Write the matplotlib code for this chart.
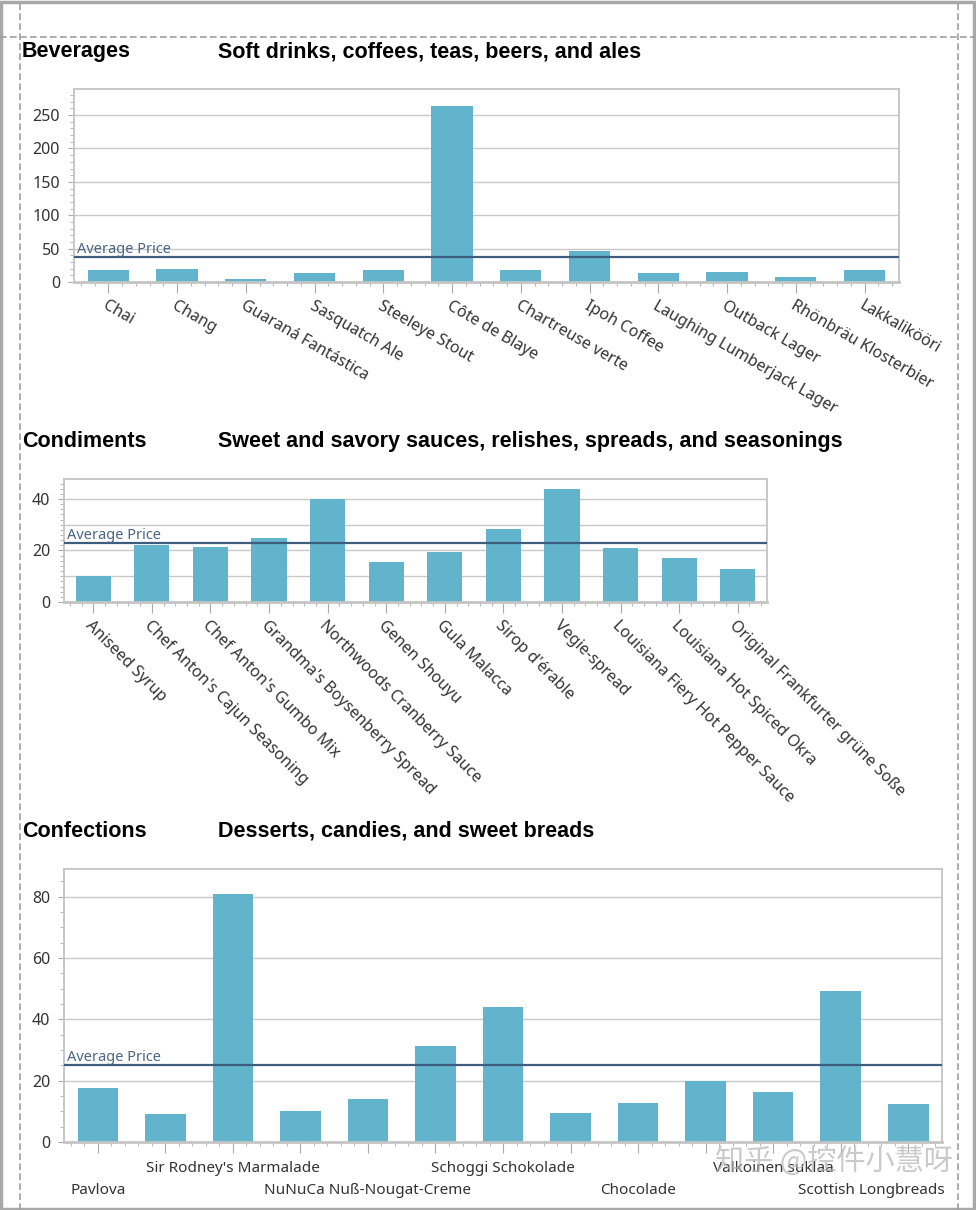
import matplotlib.pyplot as plt
from matplotlib.ticker import MultipleLocator
from matplotlib.lines import Line2D
from matplotlib.patches import Rectangle
from matplotlib.transforms import ScaledTranslation

bev_names = ["Chai", "Chang", "Guaraná Fantástica", "Sasquatch Ale", "Steeleye Stout",
             "Côte de Blaye", "Chartreuse verte", "Ipoh Coffee", "Laughing Lumberjack Lager",
             "Outback Lager", "Rhönbräu Klosterbier", "Lakkalikööri"]
bev_prices = [18, 19, 4.5, 14, 18, 263.5, 18, 46, 14, 15, 7.75, 18]
bev_avg = 37.98

cond_names = ["Aniseed Syrup", "Chef Anton's Cajun Seasoning", "Chef Anton's Gumbo Mix",
              "Grandma's Boysenberry Spread", "Northwoods Cranberry Sauce", "Genen Shouyu",
              "Gula Malacca", "Sirop d'érable", "Vegie-spread", "Louisiana Fiery Hot Pepper Sauce",
              "Louisiana Hot Spiced Okra", "Original Frankfurter grüne Soße"]
cond_prices = [10, 22, 21.35, 25, 40, 15.5, 19.45, 28.5, 43.9, 21.05, 17, 13]
cond_avg = 23.06

conf_names = ["Pavlova", "Teatime Chocolate Biscuits", "Sir Rodney's Marmalade",
              "Sir Rodney's Scones", "NuNuCa Nuß-Nougat-Creme", "Gumbär Gummibärchen",
              "Schoggi Schokolade", "Zaanse koeken", "Chocolade", "Maxilaku",
              "Valkoinen suklaa", "Tarte au sucre", "Scottish Longbreads"]
conf_prices = [17.45, 9.2, 81, 10, 14, 31.23, 43.9, 9.5, 12.75, 20, 16.25, 49.3, 12.5]
conf_avg = 25.16

titles = [("Beverages", "Soft drinks, coffees, teas, beers, and ales"),
          ("Condiments", "Sweet and savory sauces, relishes, spreads, and seasonings"),
          ("Confections", "Desserts, candies, and sweet breads")]

BAR = "#62b3cc"
AVG = "#3d5d7e"
GRID = "#c8c8c8"
TXT = "#333333"
plt.rcParams['font.family'] = ['Noto Sans', 'DejaVu Sans']

fig = plt.figure(figsize=(9.76, 12.10), dpi=100)


def chart(rect, names, prices, avg, ymax, label_step, grid_step, minor_step):
    ax = fig.add_axes(rect)
    x = list(range(len(names)))
    ax.bar(x, prices, width=0.6, color=BAR, zorder=2)
    ax.axhline(avg, color=AVG, lw=1.6, zorder=3)
    ax.text(-0.45, avg, "Average Price", color="#4a6685", fontsize=10.5,
            va="bottom", ha="left", zorder=4)
    ax.set_xlim(-0.5, len(names) - 0.5)
    ax.set_ylim(0, ymax)
    ax.yaxis.set_major_locator(MultipleLocator(label_step))
    ax.yaxis.set_minor_locator(MultipleLocator(minor_step))
    v = grid_step
    while v < ymax:
        ax.axhline(v, color=GRID, lw=1.0, zorder=1)
        v += grid_step
    ax.set_xticks(x)
    ax.xaxis.set_minor_locator(MultipleLocator(0.2))
    for s in ax.spines.values():
        s.set_color("#c4c4c4")
        s.set_linewidth(1.3)
    ax.spines["bottom"].set_linewidth(2)
    ax.tick_params(axis="y", which="major", length=4, color="#aaaaaa", labelsize=11.5,
                   labelcolor=TXT, pad=6)
    ax.tick_params(axis="y", which="minor", length=3, color="#aaaaaa")
    ax.tick_params(axis="x", which="major", length=8, color="#aaaaaa", labelsize=11.5,
                   labelcolor=TXT)
    ax.tick_params(axis="x", which="minor", length=3, color="#aaaaaa")
    return ax


ax1 = chart([0.0758, 0.7669, 0.8453, 0.1595], bev_names, bev_prices, bev_avg, 289, 50, 50, 10)
ax1.set_xticklabels(bev_names, rotation=-30, ha="left", va="top", rotation_mode="anchor")

ax2 = chart([0.0656, 0.5025, 0.7203, 0.1017], cond_names, cond_prices, cond_avg, 47.8, 20, 10, 2)
ax2.set_xticklabels(cond_names, rotation=-45, ha="left", va="top", rotation_mode="anchor")

ax3 = chart([0.0656, 0.0562, 0.8996, 0.2256], conf_names, conf_prices, conf_avg, 89, 20, 20, 5)
# only every other name fits, staggered over two rows
conf_labels = [n if i % 2 == 0 else "" for i, n in enumerate(conf_names)]
ax3.set_xticklabels(conf_labels, fontsize=11)
for i, t in enumerate(ax3.xaxis.get_major_ticks()):
    if i % 4 == 0:
        t.set_pad(t.get_pad() + 18)
    else:
        t.set_pad(t.get_pad() + 2)
last = ax3.xaxis.get_major_ticks()[-1].label1
last.set_horizontalalignment("right")
last.set_transform(last.get_transform() + ScaledTranslation(0.36, 0, fig.dpi_scale_trans))

for (t1, t2), y in zip(titles, [0.9572, 0.6352, 0.3132]):
    fig.text(0.0225, y, t1, fontsize=15.5, fontweight="bold", family="Liberation Sans", va="center")
    fig.text(0.2234, y, t2, fontsize=15.5, fontweight="bold", family="Liberation Sans", va="center")

# page decorations
fig.add_artist(Rectangle((0.001, 0.001), 0.997, 0.997, fill=False, ec="#a8a8a8", lw=2.5,
                         transform=fig.transFigure))
for xv in [0.0205, 0.9816]:
    fig.add_artist(Line2D([xv, xv], [0, 1], color="#a0a0a0", lw=1.2, ls=(0, (4, 2))))
fig.add_artist(Line2D([0, 1], [0.9694, 0.9694], color="#a0a0a0", lw=1.2, ls=(0, (4, 2))))

fig.text(0.733, 0.0325, "知乎 @控件小慧呀", fontsize=21, color="#b4b4b4", alpha=0.7,
         family=["Noto Sans CJK SC", "DejaVu Sans"])

fig.savefig("out.png", dpi=100)
